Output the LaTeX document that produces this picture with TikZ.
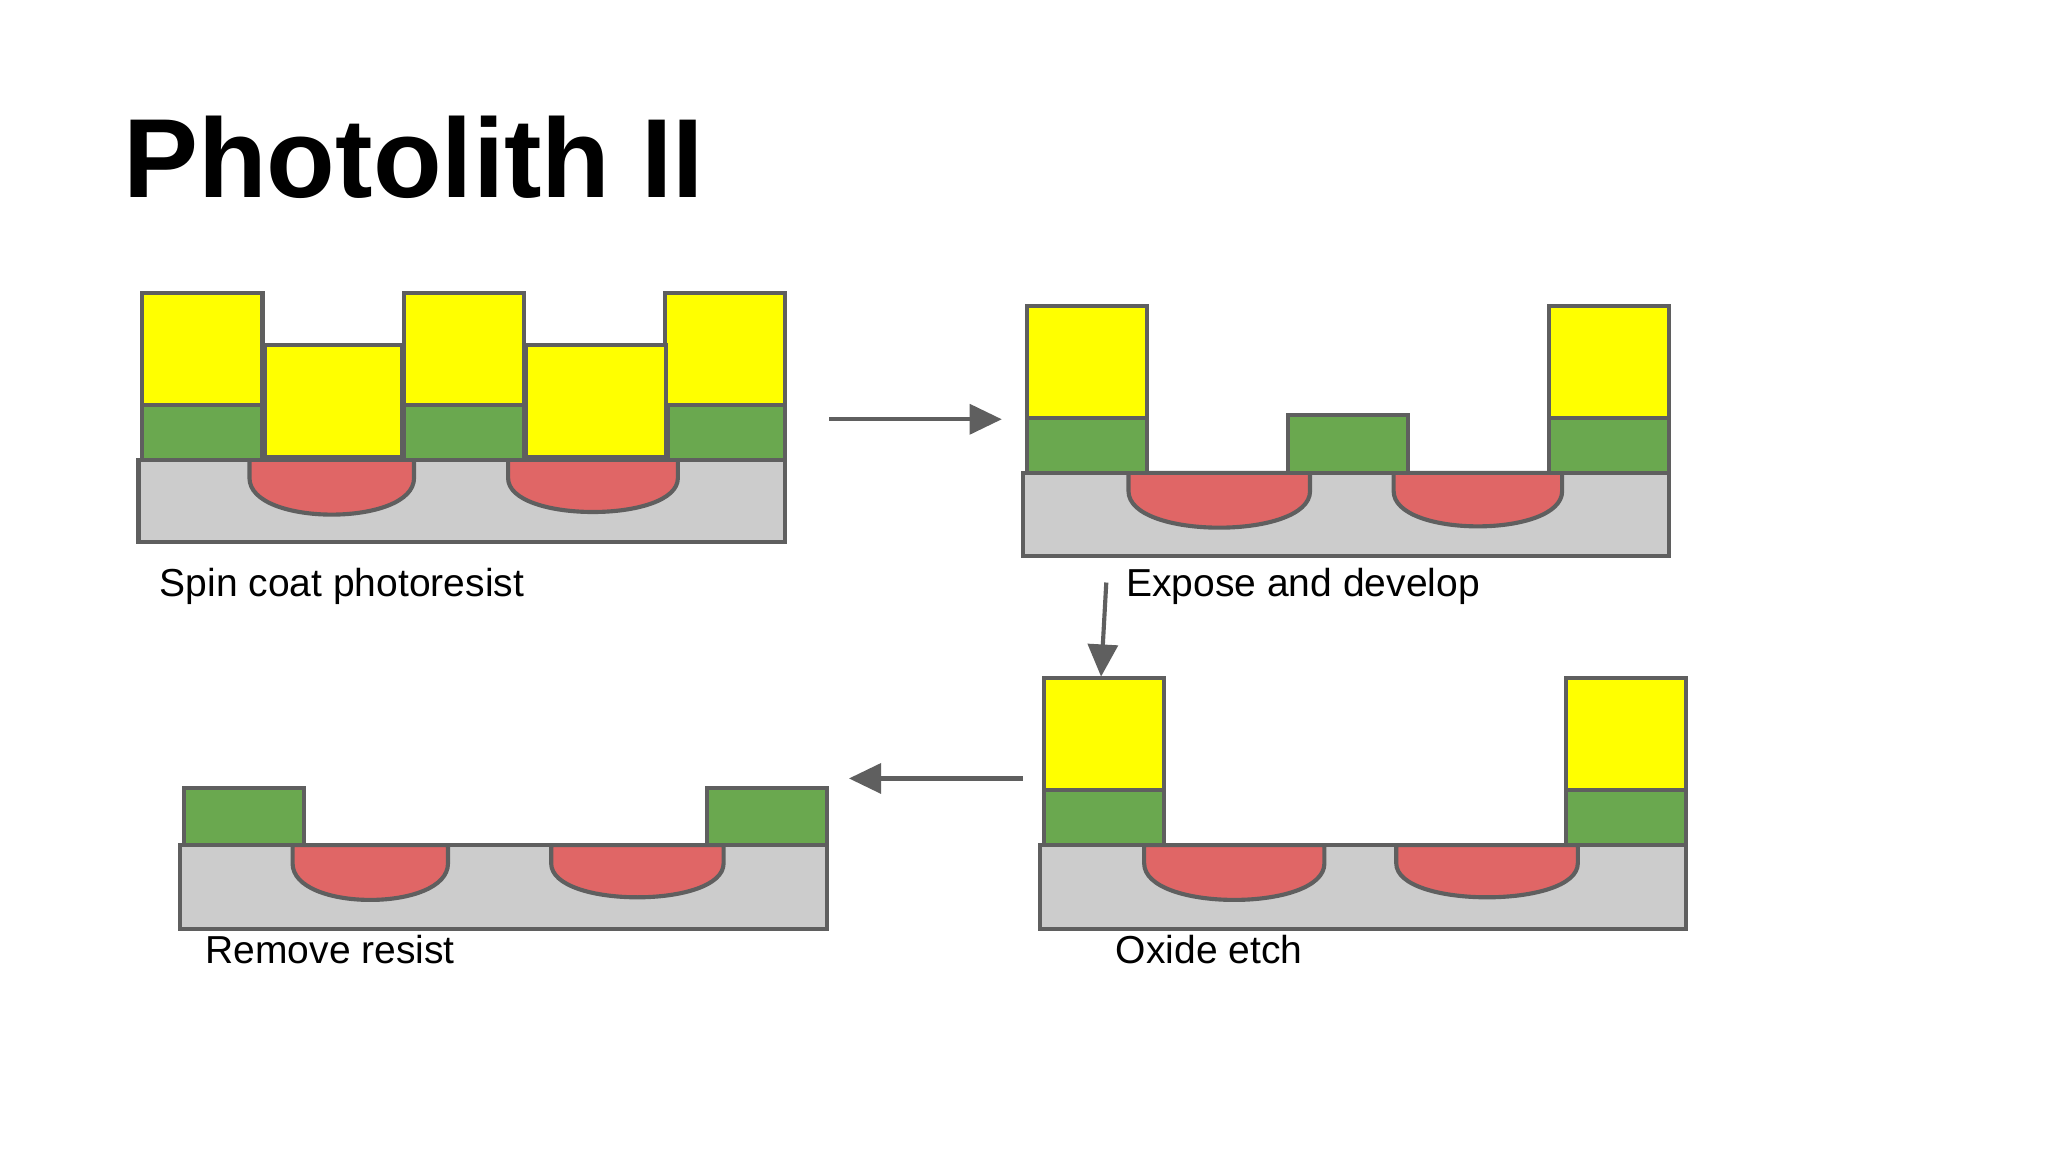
\documentclass[tikz,border=0pt]{standalone}
\usepackage{fontspec}
\setmainfont{Liberation Sans}
\usetikzlibrary{arrows.meta}
\definecolor{ye}{HTML}{FFFF00}
\definecolor{gr}{HTML}{6AA84F}
\definecolor{rd}{HTML}{E06666}
\definecolor{su}{HTML}{CCCCCC}
\definecolor{ol}{HTML}{5F5F5F}
\newcommand\blk[5]{\draw[#1] (#2,#3) rectangle (#4,#5);}
\newcommand\well[4]{\draw[red box] (#1,#3) -- (#1,#3+14) .. controls (#1,{#3+14+(#4-#3-14)*4/3}) and (#2,{#3+14+(#4-#3-14)*4/3}) .. (#2,#3+14) -- (#2,#3) -- cycle;}
\begin{document}
\begin{tikzpicture}[x=0.02cm,y=-0.02cm,
  base/.style={draw=ol,line width=1.8pt,line join=miter},
  yb/.style={base,fill=ye}, gb/.style={base,fill=gr}, sb/.style={base,fill=su},
  red box/.style={base,fill=rd},
  lab/.style={anchor=west,font=\fontsize{17}{20}\selectfont,inner sep=0pt},
  arr/.style={draw=ol,line width=1.8pt,-{Triangle[length=14pt,width=13pt]}}]
\useasboundingbox[fill=white] (0,0) rectangle (1568,882);
\node[anchor=base west,inner sep=0pt,font=\bfseries\fontsize{49}{56}\selectfont] (title) at (94,151) {Photolith II};
% panel 1
\blk{sb}{106}{352}{601}{415}
\well{191}{317}{352}{394}\well{389}{519}{352}{392}
\blk{gb}{109}{310}{201}{352}\blk{gb}{309}{310}{401}{352}\blk{gb}{511}{310}{601}{352}
\blk{yb}{109}{224}{201}{310}\blk{yb}{309}{224}{401}{310}\blk{yb}{509}{224}{601}{310}
\blk{yb}{203}{264}{308}{350}\blk{yb}{403}{264}{510}{350}
\node[lab] (l1) at (122,449) {Spin coat photoresist};
% panel 2
\blk{sb}{783}{362}{1278}{426}
\well{864}{1003}{362}{404}\well{1067}{1196}{362}{403}
\blk{gb}{786}{320}{878}{362}\blk{gb}{986}{318}{1078}{362}\blk{gb}{1186}{320}{1278}{362}
\blk{yb}{786}{234}{878}{320}\blk{yb}{1186}{234}{1278}{320}
\node[lab] (l2) at (862,449) {Expose and develop};
% panel 3
\blk{sb}{796}{647}{1291}{711}
\well{876}{1014}{647}{689}\well{1069}{1208}{647}{687}
\blk{gb}{799}{605}{891}{647}\blk{gb}{1199}{605}{1291}{647}
\blk{yb}{799}{519}{891}{605}\blk{yb}{1199}{519}{1291}{605}
\node[lab] (l3) at (854,727) {Oxide etch};
% panel 4
\blk{sb}{138}{647}{633}{711}
\well{224}{343}{647}{689}\well{422}{554}{647}{687}
\blk{gb}{141}{603}{233}{647}\blk{gb}{541}{603}{633}{647}
\node[lab] (l4) at (157,727) {Remove resist};
% arrows
\coordinate (a1) at (635,321); \coordinate (b1) at (767,321);
\coordinate (a2) at (847,446); \coordinate (b2) at (843,518);
\coordinate (a3) at (783,596); \coordinate (b3) at (650,596);
\draw[arr] (a1) -- (b1);
\draw[arr] (a2) -- (b2);
\draw[arr] (a3) -- (b3);
\end{tikzpicture}
\end{document}
